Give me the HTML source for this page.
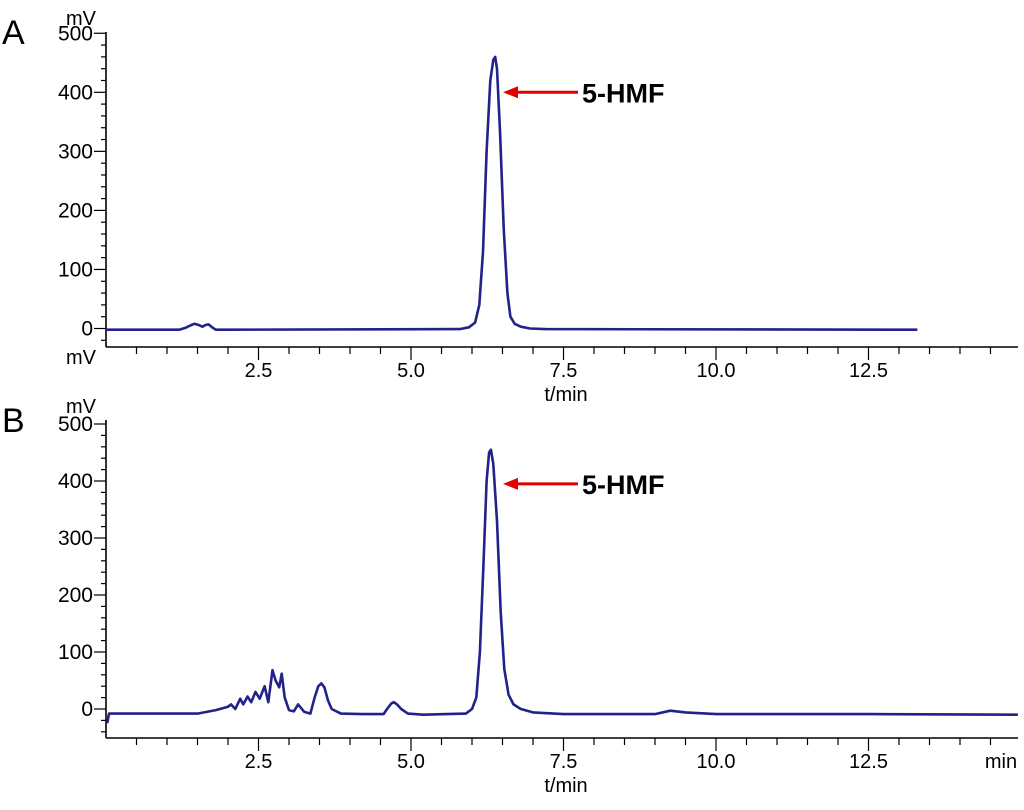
<!DOCTYPE html>
<html><head><meta charset="utf-8"><style>
body{margin:0;background:#fff;}
svg text{font-family:"Liberation Sans",Arial,sans-serif;fill:#000;}
</style></head><body>
<svg id="chart" width="1024" height="805" viewBox="0 0 1024 805" xmlns="http://www.w3.org/2000/svg">
</svg>
<script>
// Panel A data (time min, signal mV)
const timesA = [0,1.2,1.3,1.38,1.45,1.52,1.58,1.63,1.68,1.74,1.8,2.0,5.8,5.95,6.05,6.12,6.18,6.24,6.3,6.35,6.38,6.41,6.46,6.52,6.58,6.63,6.7,6.8,6.95,7.2,13.3];
const valuesA = [-2,-2,1,5,8,6,3,6,7,2,-2,-2,-1,2,10,40,130,300,420,455,460,440,330,170,60,20,8,3,0,-1,-2];
// Panel B data
const timesB = [0.02,0.05,1.5,1.8,2.0,2.05,2.12,2.2,2.25,2.32,2.38,2.45,2.52,2.6,2.66,2.73,2.78,2.84,2.88,2.93,3.0,3.08,3.15,3.25,3.35,3.42,3.48,3.53,3.58,3.64,3.7,3.85,4.2,4.55,4.62,4.68,4.72,4.77,4.84,4.95,5.2,5.9,6.0,6.07,6.13,6.19,6.24,6.28,6.31,6.35,6.41,6.47,6.53,6.6,6.68,6.8,7.0,7.5,9.0,9.25,9.5,10.0,12.5,14.95];
const valuesB = [-25,-8,-8,-2,4,8,0,18,8,22,12,30,18,40,12,68,50,38,62,20,-2,-4,8,-5,-8,20,40,45,38,15,0,-8,-9,-9,2,10,12,8,0,-8,-10,-8,0,20,100,260,400,450,455,430,330,170,70,25,8,0,-6,-9,-9,-3,-6,-9,-9,-10];
const xTicks = [2.5,5.0,7.5,10.0,12.5];
const xTickLabels = ["2.5","5.0","7.5","10.0","12.5"];
const yTicks = [0,100,200,300,400,500];

const svg=document.getElementById('chart');
const NS='http://www.w3.org/2000/svg';
function mk(tag,attrs,parent){const e=document.createElementNS(NS,tag);for(const k in attrs)e.setAttribute(k,attrs[k]);(parent||svg).appendChild(e);return e;}

function panel(cfg){
  const g=mk('g',{});
  
  
  const xs=t=>106+t*61;
  const ys=v=>cfg.y0-v*cfg.py;
  const ya=mk('line',{x1:106,y1:cfg.top,x2:106,y2:cfg.axisY,stroke:'#000','stroke-width':1.6},g);
  
  for(let v=-40;v<=500;v+=20){
    const y=ys(v); if(y>cfg.axisY-2) continue;
    const major=v%100===0;
    mk('line',{x1:major?94:101,y1:y,x2:106,y2:y,stroke:'#000','stroke-width':1.2},g);
  }
  yTicks.forEach(v=>{
    const t=mk('text',{x:93,y:ys(v)+7,'text-anchor':'end','font-size':21},g);
    t.textContent=v;
    
    
  });
  const xa=mk('line',{x1:106,y1:cfg.axisY,x2:1018,y2:cfg.axisY,stroke:'#000','stroke-width':1.6},g);
  
  for(let t=0.5;t<=14.95;t+=0.5){
    const major=Math.abs(t/2.5-Math.round(t/2.5))<1e-6;
    mk('line',{x1:xs(t),y1:cfg.axisY,x2:xs(t),y2:cfg.axisY+(major?13:7),stroke:'#000','stroke-width':1.2},g);
  }
  xTicks.forEach((t,i)=>{
    const e=mk('text',{x:xs(t),y:cfg.axisY+30,'text-anchor':'middle','font-size':20},g);
    e.textContent=xTickLabels[i];
    
    
  });
  const xt=mk('text',{x:566,y:cfg.axisY+54,'text-anchor':'middle','font-size':20},g);
  xt.textContent='t/min';
  
  
  const d=cfg.times.map((t,i)=>(i?'L':'M')+xs(t).toFixed(1)+','+ys(cfg.values[i]).toFixed(1)).join(' ');
  const p=mk('path',{d:d,fill:'none',stroke:'#22228a','stroke-width':2.6,'stroke-linejoin':'round'},g);
  
  
  const ay=ys(cfg.arrowV);
  const al=mk('line',{x1:578,y1:ay,x2:515,y2:ay,stroke:'#e00000','stroke-width':3},g);
  
  mk('polygon',{points:`503,${ay} 518,${ay-6} 518,${ay+6}`,fill:'#e00000'},g);
  const lab=mk('text',{x:582,y:ay+10,'font-size':27,'font-weight':'bold'},g);
  lab.textContent='5-HMF';
  
  
  const pl=mk('text',{x:2,y:cfg.top+12,'font-size':34},g);
  pl.textContent=cfg.letter;
  
  
  const mv=mk('text',{x:66,y:cfg.top-7,'font-size':20},g);
  mv.textContent='mV';
  
  
}
panel({name:'panel-a',letter:'A',times:timesA,values:valuesA,y0:328.5,py:0.5905,top:32,axisY:347,arrowV:400});
panel({name:'panel-b',letter:'B',times:timesB,values:valuesB,y0:709,py:0.57,top:420,axisY:738,arrowV:395});
const mv2=mk('text',{x:66,y:364,'font-size':20});
mv2.textContent='mV';


const mn=mk('text',{x:1001,y:768,'text-anchor':'middle','font-size':20});
mn.textContent='min';


</script>
</body></html>
